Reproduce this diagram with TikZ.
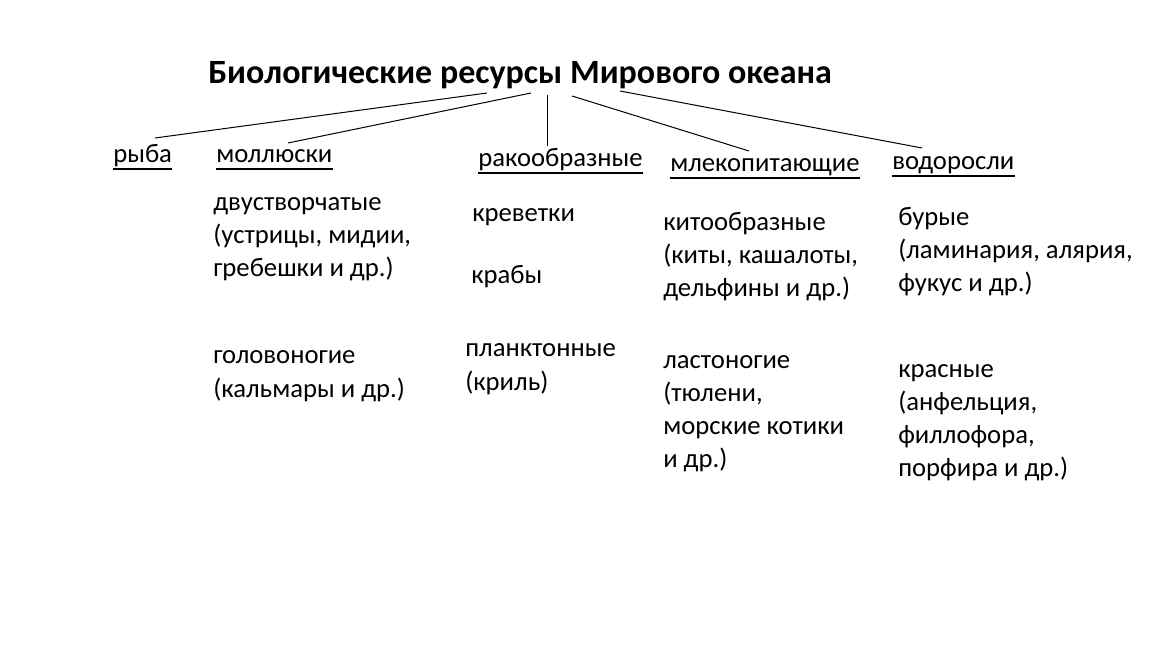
\documentclass[tikz,border=0pt]{standalone}
\usepackage{fontspec}
\setmainfont{Carlito}
\begin{document}
\begin{tikzpicture}[x=0.75pt,y=-0.75pt,
  titletext/.style={font=\fontsize{25.5}{30}\selectfont\bfseries, inner sep=0pt, anchor=base west},
  headtext/.style={font=\fontsize{20}{24.75}\selectfont, inner sep=0pt, anchor=base west},
  bodytext/.style={font=\fontsize{20}{24.75}\selectfont, inner sep=0pt, anchor=base west, align=left},
  uline/.style={draw=black, line width=1.3pt},
  link/.style={draw=black, line width=0.75pt}]
\useasboundingbox[fill=white] (0,0) rectangle (1152,648);
\node[titletext] (title) at (208,84) {Биологические ресурсы Мирового океана};
\node[headtext] (h1) at (113,163) {рыба};
\node[headtext] (h2) at (216,163) {моллюски};
\node[headtext] (h3) at (478,167) {ракообразные};
\node[headtext] (h4) at (670,172) {млекопитающие};
\node[headtext] (h5) at (892,170) {водоросли};
\foreach \h in {h1,h2,h3,h4,h5}
  \draw[uline] ([yshift=-4.5pt]\h.base west) -- ([yshift=-4.5pt]\h.base east);
% body (anchor at baseline of last line)
\node[bodytext] (m1) at (213,277) {двустворчатые\\(устрицы, мидии,\\гребешки и др.)};
\node[bodytext] (m2) at (213,397) {головоногие\\(кальмары и др.)};
\node[bodytext] (r1) at (472,222) {креветки};
\node[bodytext] (r2) at (471,284) {крабы};
\node[bodytext] (r3) at (465,390) {планктонные\\(криль)};
\node[bodytext] (k1) at (663,297) {китообразные\\(киты, кашалоты,\\дельфины и др.)};
\node[bodytext] (k2) at (663,467) {ластоногие\\(тюлени,\\морские котики\\и др.)};
\node[bodytext] (v1) at (898,292) {бурые\\(ламинария, алярия,\\фукус и др.)};
\node[bodytext] (v2) at (898,476) {красные\\(анфельция,\\филлофора,\\порфира и др.)};
% connector endpoints
\coordinate (s1) at (487,93);
\coordinate (e1) at (155,138);
\coordinate (s2) at (531,93);
\coordinate (e2) at (288,143);
\coordinate (s3) at (547,95);
\coordinate (e3) at (547,146);
\coordinate (s4) at (572,96);
\coordinate (e4) at (749,151);
\coordinate (s5) at (620,91);
\coordinate (e5) at (922,148);
\draw[link] (s1) -- (e1);
\draw[link] (s2) -- (e2);
\draw[link] (s3) -- (e3);
\draw[link] (s4) -- (e4);
\draw[link] (s5) -- (e5);
\end{tikzpicture}
\end{document}
